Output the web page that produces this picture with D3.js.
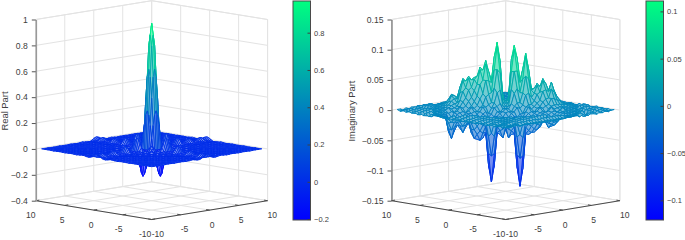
<!DOCTYPE html>
<html>
<head>
<meta charset="utf-8">
<script src="https://cdn.jsdelivr.net/npm/d3@7/dist/d3.min.js"></script>
<style>
html, body { margin: 0; padding: 0; background: #fff; }
svg { display: block; }
text { font-family: "Liberation Sans", Arial, sans-serif; fill: #404040; }
</style>
</head>
<body>
<svg width="685" height="240"></svg>
<script>
// sample positions along both floor axes
var imagCoords = [-9.5, -9, -8.5, -8, -7.5, -7, -6.5, -6, -5.5, -5, -4.5, -4, -3.5, -3, -2.5, -2, -1.5, -1, -0.5, 0,
    0.5, 1, 1.5, 2, 2.5, 3, 3.5, 4, 4.5, 5, 5.5, 6, 6.5, 7, 7.5, 8, 8.5, 9, 9.5];
var realCoords = [-9.5, -9, -8.5, -8, -7.5, -7, -6.5, -6, -5.5, -5, -4.5, -4, -3.5, -3, -2.5, -2, -1.75, -1.5, -1.25, -1, -0.75, -0.5, -0.25, 0,
    0.25, 0.5, 0.75, 1, 1.25, 1.5, 1.75, 2, 2.5, 3, 3.5, 4, 4.5, 5, 5.5, 6, 6.5, 7, 7.5, 8, 8.5, 9, 9.5];
var floorTicks = [-10, -5, 0, 5, 10];
var realTicks = [-0.4, -0.2, 0, 0.2, 0.4, 0.6, 0.8, 1];
var imagTicks = [-0.15, -0.1, -0.05, 0, 0.05, 0.1, 0.15];
var realBarTicks = [-0.2, 0, 0.2, 0.4, 0.6, 0.8];
var imagBarTicks = [-0.1, -0.05, 0, 0.05, 0.1];
var realBarRange = [-0.205, 0.97];
var imagBarRange = [-0.1208, 0.111];

// real part, read as one quadrant; rows and columns follow the non negative half of realCoords
var realQuadrant = [
    [0.97, 0.88, 0.62, 0.3, 0, -0.16, -0.2, -0.12, -0.01, 0.1, 0, -0.06, 0, 0.05, 0, -0.035, 0, 0.03, 0, -0.025, 0, 0.025, 0, 0.025],
    [0.88, 0.8, 0.56, 0.27, 0, -0.14, -0.18, -0.11, -0.01, 0.09, 0, -0.055, 0, 0.045, 0, -0.03, 0, 0.027, 0, -0.022, 0, 0.022, 0, 0.022],
    [0.62, 0.56, 0.4, 0.19, 0, -0.1, -0.13, -0.08, -0.01, 0.065, 0, -0.04, 0, 0.03, 0, -0.022, 0, 0.02, 0, -0.016, 0, 0.016, 0, 0.016],
    [0.3, 0.27, 0.19, 0.09, 0, -0.05, -0.06, -0.04, 0, 0.03, 0, -0.018, 0, 0.015, 0, -0.01, 0, 0.009, 0, -0.008, 0, 0.008, 0, 0.008],
    [0, 0, 0, 0, 0, 0, 0, 0, 0, 0, 0, 0, 0, 0, 0, 0, 0, 0, 0, 0, 0, 0, 0, 0],
    [-0.16, -0.14, -0.1, -0.05, 0, 0.026, 0.033, 0.02, 0, -0.016, 0, 0.01, 0, -0.008, 0, 0.006, 0, -0.005, 0, 0.004, 0, -0.004, 0, -0.004],
    [-0.2, -0.18, -0.13, -0.06, 0, 0.033, 0.042, 0.025, 0, -0.02, 0, 0.012, 0, -0.01, 0, 0.007, 0, -0.006, 0, 0.005, 0, -0.005, 0, -0.005],
    [-0.12, -0.11, -0.08, -0.04, 0, 0.02, 0.025, 0.015, 0, -0.012, 0, 0.007, 0, -0.006, 0, 0.004, 0, -0.004, 0, 0.003, 0, -0.003, 0, -0.003],
    [-0.01, -0.01, -0.01, 0, 0, 0, 0, 0, 0, 0, 0, 0, 0, 0, 0, 0, 0, 0, 0, 0, 0, 0, 0, 0],
    [0.1, 0.09, 0.065, 0.03, 0, -0.016, -0.02, -0.012, 0, 0.012, 0, -0.007, 0, 0.005, 0, -0.004, 0, 0.003, 0, -0.003, 0, 0.003, 0, 0.003],
    [0, 0, 0, 0, 0, 0, 0, 0, 0, 0, 0, 0, 0, 0, 0, 0, 0, 0, 0, 0, 0, 0, 0, 0],
    [-0.06, -0.055, -0.04, -0.018, 0, 0.01, 0.012, 0.007, 0, -0.007, 0, 0.004, 0, -0.003, 0, 0.002, 0, -0.002, 0, 0.002, 0, -0.002, 0, -0.002],
    [0, 0, 0, 0, 0, 0, 0, 0, 0, 0, 0, 0, 0, 0, 0, 0, 0, 0, 0, 0, 0, 0, 0, 0],
    [0.05, 0.045, 0.03, 0.015, 0, -0.008, -0.01, -0.006, 0, 0.005, 0, -0.003, 0, 0.003, 0, -0.002, 0, 0.002, 0, -0.001, 0, 0.001, 0, 0.001],
    [0, 0, 0, 0, 0, 0, 0, 0, 0, 0, 0, 0, 0, 0, 0, 0, 0, 0, 0, 0, 0, 0, 0, 0],
    [-0.035, -0.03, -0.022, -0.01, 0, 0.006, 0.007, 0.004, 0, -0.004, 0, 0.002, 0, -0.002, 0, 0.001, 0, -0.001, 0, 0.001, 0, -0.001, 0, -0.001],
    [0, 0, 0, 0, 0, 0, 0, 0, 0, 0, 0, 0, 0, 0, 0, 0, 0, 0, 0, 0, 0, 0, 0, 0],
    [0.03, 0.027, 0.02, 0.009, 0, -0.005, -0.006, -0.004, 0, 0.003, 0, -0.002, 0, 0.002, 0, -0.001, 0, 0.001, 0, -0.001, 0, 0.001, 0, 0.001],
    [0, 0, 0, 0, 0, 0, 0, 0, 0, 0, 0, 0, 0, 0, 0, 0, 0, 0, 0, 0, 0, 0, 0, 0],
    [-0.025, -0.022, -0.016, -0.008, 0, 0.004, 0.005, 0.003, 0, -0.003, 0, 0.002, 0, -0.001, 0, 0.001, 0, -0.001, 0, 0.001, 0, -0.001, 0, -0.001],
    [0, 0, 0, 0, 0, 0, 0, 0, 0, 0, 0, 0, 0, 0, 0, 0, 0, 0, 0, 0, 0, 0, 0, 0],
    [0.025, 0.022, 0.016, 0.008, 0, -0.004, -0.005, -0.003, 0, 0.003, 0, -0.002, 0, 0.001, 0, -0.001, 0, 0.001, 0, -0.001, 0, 0.001, 0, 0.001],
    [0, 0, 0, 0, 0, 0, 0, 0, 0, 0, 0, 0, 0, 0, 0, 0, 0, 0, 0, 0, 0, 0, 0, 0],
    [0.025, 0.022, 0.016, 0.008, 0, -0.004, -0.005, -0.003, 0, 0.003, 0, -0.002, 0, 0.001, 0, -0.001, 0, 0.001, 0, -0.001, 0, 0.001, 0, 0.001]
];

// imaginary part x 1000, one row per x + y slice from the front corner to the back corner
var imagSlices = [
    [0],
    [0, 1],
    [1, -1, 0],
    [0, 1, -1, 1],
    [-1, 1, 0, -1, 1],
    [1, -1, 2, -2, 1, -1],
    [0, 1, -2, 1, -2, 1, 0],
    [-1, 2, -1, 2, -2, 1, -2, 1],
    [1, -2, 2, -1, 1, -2, 2, -1, 1],
    [0, 1, -2, 2, -1, 1, -2, 2, -1, 0],
    [1, -1, 2, -3, 2, 0, 2, -3, 2, -1, 1],
    [-1, 2, -2, 3, -2, 1, -1, 2, -3, 2, -1, 1],
    [1, -2, 3, -3, 2, -1, 1, -1, 2, -3, 3, -2, 1],
    [0, 2, -2, 3, -3, 2, -1, 1, -2, 3, -3, 2, -2, 0],
    [1, -2, 3, -3, 3, -2, 1, 0, 1, -2, 3, -3, 3, -2, 1],
    [-1, 2, -3, 3, -3, 2, -1, 1, -1, 2, -3, 3, -3, 2, -2, 1],
    [1, -2, 2, -4, 3, -3, 2, -1, 1, -1, 2, -3, 3, -4, 2, -2, 1],
    [0, 2, -3, 3, -4, 3, -2, 2, -1, 1, -2, 2, -3, 4, -3, 3, -2, 0],
    [1, -2, 3, -4, 4, -3, 3, -2, 1, 0, 1, -2, 3, -3, 4, -4, 3, -2, 1],
    [-1, 2, -3, 4, -4, 3, -3, 2, -1, 1, -1, 1, -2, 3, -3, 4, -4, 3, -2, 1],
    [1, -2, 3, -4, 5, -4, 3, -2, 2, -1, 1, -1, 2, -2, 3, -4, 5, -4, 3, -2, 1],
    [0, 2, -3, 4, -5, 4, -3, 3, -2, 1, -1, 1, -1, 2, -3, 3, -4, 5, -4, 3, -2, 0],
    [1, -2, 3, -4, 5, -5, 3, -3, 2, -2, 1, 0, 1, -2, 2, -3, 3, -5, 5, -4, 3, -2, 1],
    [1, -2, -2, -1, -2, -1, -2, -2, -2, -6, -2, -2, -2, -2, -6, -2, -2, -1, -1, -1, -1, 2, -1, 1],
    [1, -2, -4, -3, -3, -3, -4, -5, -5, -10, -10, -4, -3, -4, -11, -11, -4, -4, -3, -2, -2, -2, 2, -1, 1],
    [1, -1, -2, -10, -5, -8, -4, -10, -11, -8, -28, -8, -10, -10, -8, -30, -8, -8, -6, -3, -6, -5, -2, -1, -1, 1],
    [2, 0, -2, -12, -11, -10, -9, -13, -17, -16, -34, -34, -14, -10, -14, -35, -36, -14, -12, -9, -6, -8, -6, -2, -1, 0, -2],
    [-2, 0, -1, -4, -24, -11, -18, -8, -24, -26, -18, -67, -18, -23, -23, -19, -71, -19, -18, -15, -7, -13, -11, -5, -2, -1, 0, 2],
    [2, -3, -1, -3, -23, -21, -18, -17, -24, -32, -30, -64, -64, -26, -19, -26, -66, -68, -26, -23, -17, -11, -15, -11, -5, -2, -1, 3, -2],
    [-2, 3, 0, -2, -6, -40, -18, -30, -14, -40, -43, -30, -112, -30, -39, -39, -32, -119, -32, -30, -25, -12, -22, -18, -8, -4, -2, 0, -3, 2],
    [2, -3, 4, -1, -4, -30, -28, -24, -22, -32, -42, -40, -85, -85, -34, -25, -34, -88, -90, -34, -30, -22, -14, -20, -14, -6, -3, -1, 4, -3, 2],
    [-2, 3, -4, 0, -2, -6, -38, -17, -28, -13, -38, -41, -28, -106, -28, -37, -37, -30, -113, -30, -28, -24, -11, -21, -17, -8, -4, -2, 0, 4, -3, 2],
    [2, -3, 4, -4, -1, -3, -23, -21, -18, -17, -24, -32, -30, -64, -64, -26, -19, -26, -66, -68, -26, -23, -17, -11, -15, -11, -5, -2, -1, 5, -4, 3, -2],
    [-1, 2, -3, 4, 0, -1, -4, -24, -11, -18, -8, -24, -26, -18, -67, -18, -23, -23, -19, -71, -19, -18, -15, -7, -13, -11, -5, -2, -1, 0, -4, 3, -2, 1],
    [1, -2, 3, -4, 5, 0, -2, -12, -11, -10, -9, -13, -17, -16, -34, -34, -14, -10, -14, -35, -36, -14, -12, -9, -6, -8, -6, -2, -1, 0, -5, 4, -3, 2, -1],
    [-1, 2, -3, 4, -5, 0, -1, -2, -10, -5, -8, -4, -10, -11, -8, -28, -8, -10, -10, -8, -30, -8, -8, -6, -3, -6, -5, -2, -1, -1, 0, 5, -4, 3, -2, 1],
    [1, -1, 2, -3, 4, -4, 0, 0, -4, -3, -3, -3, -4, -5, -5, -10, -10, -4, -3, -4, -11, -11, -4, -4, -3, -2, -2, -2, -1, 0, 0, 4, -4, 3, -2, 1, -1],
    [-1, 1, -2, 3, -3, 4, 0, 0, 0, -2, -1, -2, -1, -2, -2, -2, -6, -2, -2, -2, -2, -6, -2, -2, -1, -1, -1, -1, 0, 0, 0, 0, -4, 3, -3, 2, -1, 1],
    [1, -1, 2, -2, 3, -3, 2, 2, -3, 4, -4, 5, -5, 4, -3, 5, -6, 4, -3, 2, -3, 4, -6, 5, -3, 4, -5, 5, -4, 4, -3, 2, 2, -3, 3, -2, 2, -1, 1],
    [1, -1, 2, -3, 3, -4, 0, 0, 0, 1, 1, 2, 2, 2, 3, 4, 2, 5, 1, 1, 5, 2, 4, 1, 2, 2, 1, 1, 0, 0, 0, 0, 4, -3, 3, -2, 1, -1],
    [-1, 1, -2, 3, -4, 4, 0, 0, 1, 2, 4, 5, 5, 6, 7, 7, 10, 9, 1, 9, 10, 7, 7, 4, 4, 5, 5, 2, 1, 0, 0, -4, 4, -3, 2, -1, 1],
    [1, -2, 3, -4, 5, 0, 1, 2, 5, 4, 11, 12, 12, 16, 19, 10, 26, 4, 4, 25, 10, 22, 7, 9, 11, 7, 6, 3, 1, 1, 0, -5, 4, -3, 2, -1],
    [-1, 2, -3, 4, -5, 0, 1, 5, 7, 13, 17, 18, 20, 24, 23, 33, 30, 3, 31, 32, 25, 25, 12, 13, 15, 16, 6, 2, 1, 0, 5, -4, 3, -2, 1],
    [1, -2, 3, -4, 0, 2, 4, 11, 8, 27, 29, 28, 38, 45, 25, 63, 9, 9, 60, 25, 52, 17, 22, 27, 16, 15, 6, 2, 1, 0, 4, -3, 2, -1],
    [-2, 3, -4, 4, 1, 2, 9, 14, 24, 32, 33, 38, 45, 44, 62, 57, 6, 59, 60, 47, 47, 23, 25, 29, 30, 12, 4, 2, 1, -5, 4, -3, 2],
    [2, -3, 4, 0, 3, 6, 18, 13, 43, 47, 45, 61, 71, 40, 100, 14, 14, 95, 40, 83, 27, 35, 43, 25, 24, 10, 4, 2, 0, -4, 3, -2],
    [-2, 3, -4, 1, 3, 12, 18, 32, 42, 44, 50, 60, 58, 82, 76, 8, 78, 80, 62, 62, 30, 33, 38, 40, 16, 5, 3, 1, -4, 3, -2],
    [2, -3, 0, 3, 6, 19, 14, 45, 49, 47, 64, 75, 42, 105, 15, 15, 100, 42, 87, 28, 37, 45, 26, 25, 10, 4, 2, 0, 3, -2],
    [-2, 3, 1, 2, 9, 14, 24, 32, 33, 38, 45, 44, 62, 57, 6, 59, 60, 47, 47, 23, 25, 29, 30, 12, 4, 2, 1, -3, 2],
    [2, 0, 2, 4, 11, 8, 27, 29, 28, 38, 45, 25, 63, 9, 9, 60, 25, 52, 17, 22, 27, 16, 15, 6, 2, 1, 0, -2],
    [-2, 0, 1, 5, 7, 13, 17, 18, 20, 24, 23, 33, 30, 3, 31, 32, 25, 25, 12, 13, 15, 16, 6, 2, 1, 0, 2],
    [-1, 1, 2, 5, 4, 11, 12, 12, 16, 19, 10, 26, 4, 4, 25, 10, 22, 7, 9, 11, 7, 6, 3, 1, 1, -1],
    [-1, 2, 1, 2, 4, 5, 5, 6, 7, 7, 10, 9, 1, 9, 10, 7, 7, 4, 4, 5, 5, 2, -2, 1, -1],
    [-1, 2, 0, 1, 1, 2, 2, 2, 3, 4, 2, 5, 1, 1, 5, 2, 4, 1, 2, 2, 1, 1, -2, 1],
    [-1, 2, -3, 4, -5, 5, -3, 3, -2, 2, -1, 0, -1, 2, -2, 3, -3, 5, -5, 4, -3, 2, -1],
    [0, -2, 3, -4, 5, -4, 3, -3, 2, -1, 1, -1, 1, -2, 3, -3, 4, -5, 4, -3, 2, 0],
    [-1, 2, -3, 4, -5, 4, -3, 2, -2, 1, -1, 1, -2, 2, -3, 4, -5, 4, -3, 2, -1],
    [1, -2, 3, -4, 4, -3, 3, -2, 1, -1, 1, -1, 2, -3, 3, -4, 4, -3, 2, -1],
    [-1, 2, -3, 4, -4, 3, -3, 2, -1, 0, -1, 2, -3, 3, -4, 4, -3, 2, -1],
    [0, -2, 3, -3, 4, -3, 2, -2, 1, -1, 2, -2, 3, -4, 3, -3, 2, 0],
    [-1, 2, -2, 4, -3, 3, -2, 1, -1, 1, -2, 3, -3, 4, -2, 2, -1],
    [1, -2, 3, -3, 3, -2, 1, -1, 1, -2, 3, -3, 3, -2, 2, -1],
    [-1, 2, -3, 3, -3, 2, -1, 0, -1, 2, -3, 3, -3, 2, -1],
    [0, -2, 2, -3, 3, -2, 1, -1, 2, -3, 3, -2, 2, 0],
    [-1, 2, -3, 3, -2, 1, -1, 1, -2, 3, -3, 2, -1],
    [1, -2, 2, -3, 2, -1, 1, -2, 3, -2, 1, -1],
    [-1, 1, -2, 3, -2, 0, -2, 3, -2, 1, -1],
    [0, -1, 2, -2, 1, -1, 2, -2, 1, 0],
    [-1, 2, -2, 1, -1, 2, -2, 1, -1],
    [1, -2, 1, -2, 2, -1, 2, -1],
    [0, -1, 2, -1, 2, -1, 0],
    [-1, 1, -2, 2, -1, 1],
    [1, -1, 0, 1, -1],
    [0, -1, 1, -1],
    [-1, 1, 0],
    [0, -1],
    [0]
];

var svg = d3.select("svg");
var winter = ["#0000ff", "#00ff80"];

function realAt(i, j) {
    return realQuadrant[Math.abs(i - 23)][Math.abs(j - 23)];
}

function imagAt(i, j) {
    var t = i + j;
    return imagSlices[t][i - Math.max(0, t - 38)] / 1000;
}

function drawPanel(p) {
    var g = svg.append("g");
    var coords = p.coords;

    var xPos = d3.scaleLinear().domain([-10, 10]).range([0, p.halfWidth]);
    var floorRise = d3.scaleLinear().domain([-10, 10]).range([0, 18.8]);
    var zRise = d3.scaleLinear().domain(p.zDomain).range([0, 181.2]);
    var color = d3.scaleLinear().domain(p.barRange).range(winter).clamp(true);
    var tint = d3.interpolateRgb;

    function sx(x, y) { return p.frontX + xPos(x) - xPos(y); }
    function sy(x, y, z) { return 219.5 - floorRise(x) - floorRise(y) - zRise(z); }
    function seg(sel, a, b) {
        sel.append("line")
            .attr("x1", sx(a[0], a[1])).attr("y1", sy(a[0], a[1], a[2]))
            .attr("x2", sx(b[0], b[1])).attr("y2", sy(b[0], b[1], b[2]));
    }

    var zMin = p.zDomain[0], zMax = p.zDomain[1];

    // back walls and floor
    var grid = g.append("g").attr("stroke", "#e3e3e3").attr("stroke-width", 1);
    floorTicks.forEach(function(t) {
        seg(grid, [t, 10, zMin], [t, 10, zMax]);
        seg(grid, [10, t, zMin], [10, t, zMax]);
        seg(grid, [t, -10, zMin], [t, 10, zMin]);
        seg(grid, [-10, t, zMin], [10, t, zMin]);
    });
    p.zTicks.forEach(function(t) {
        seg(grid, [-10, 10, t], [10, 10, t]);
        seg(grid, [10, -10, t], [10, 10, t]);
    });
    seg(grid, [10, -10, zMin], [10, -10, zMax]);
    seg(grid, [-10, 10, zMax], [10, 10, zMax]);
    seg(grid, [10, -10, zMax], [10, 10, zMax]);

    // mesh, painted from the back corner to the front corner
    var cells = d3.cross(d3.range(coords.length - 1), d3.range(coords.length - 1))
        .sort(function(a, b) { return (b[0] + b[1]) - (a[0] + a[1]); });
    var quad = d3.line().curve(d3.curveLinearClosed);
    function corner(i, j) {
        return [sx(coords[i], coords[j]), sy(coords[i], coords[j], p.value(i, j))];
    }
    function cellColor(c) {
        var i = c[0], j = c[1];
        return color((p.value(i, j) + p.value(i + 1, j) + p.value(i + 1, j + 1) + p.value(i, j + 1)) / 4);
    }
    g.append("g").selectAll("path")
        .data(cells)
        .join("path")
        .attr("d", function(c) {
            var i = c[0], j = c[1];
            return quad([corner(i, j), corner(i + 1, j), corner(i + 1, j + 1), corner(i, j + 1)]);
        })
        .attr("fill", function(c) { return tint(cellColor(c), "#fff")(0.45); })
        .attr("stroke-width", 0.9)
        .attr("stroke-linejoin", "round")
        .attr("stroke", cellColor);

    // floor edges with ticks and labels
    var edges = g.append("g").attr("stroke", "#4a4a4a").attr("stroke-width", 1);
    seg(edges, [-10, 10, zMin], [-10, -10, zMin]);
    seg(edges, [-10, -10, zMin], [10, -10, zMin]);
    floorTicks.forEach(function(t) {
        seg(edges, [-10, t, zMin], [-9.4, t, zMin]);
        seg(edges, [t, -10, zMin], [t, -9.4, zMin]);
        g.append("text").attr("font-size", 8.6)
            .attr("text-anchor", "end")
            .attr("x", sx(-10, t) - 0.3).attr("y", sy(-10, t, zMin) + 17.5)
            .text(t);
        g.append("text").attr("font-size", 8.6)
            .attr("text-anchor", "start")
            .attr("x", sx(t, -10)).attr("y", sy(t, -10, zMin) + 17.5)
            .text(t);
    });

    // vertical axis
    var zScale = d3.scaleLinear().domain(p.zDomain).range([200.7, 19.5]);
    var zAxis = g.append("g")
        .attr("transform", "translate(" + sx(-10, 10) + ",0)")
        .call(d3.axisLeft(zScale).tickValues(p.zTicks).tickFormat(d3.format("~g")).tickSizeInner(4).tickSizeOuter(0).tickPadding(4));
    zAxis.select(".domain").attr("stroke", p.zAxisColor).attr("stroke-width", p.zAxisWidth);
    zAxis.selectAll(".tick line").attr("stroke", "#555");
    zAxis.selectAll("text").attr("font-size", 8.6).attr("font-family", "Liberation Sans").attr("fill", "#404040");

    g.append("text")
        .attr("transform", "translate(" + p.labelX + ",111) rotate(-90)")
        .attr("text-anchor", "middle")
        .attr("font-size", 9.4)
        .attr("fill", "#303030")
        .text(p.label);

    // colour bar
    var gradId = "bar" + p.barX;
    var grad = svg.append("defs").append("linearGradient")
        .attr("id", gradId).attr("x1", 0).attr("x2", 0).attr("y1", 1).attr("y2", 0);
    grad.append("stop").attr("offset", 0).attr("stop-color", winter[0]);
    grad.append("stop").attr("offset", 1).attr("stop-color", winter[1]);
    var barScale = d3.scaleLinear().domain(p.barRange).range([220, 1]);
    g.append("rect")
        .attr("x", p.barX).attr("y", 1)
        .attr("width", 17.5).attr("height", 219)
        .attr("fill", "url(#" + gradId + ")")
        .attr("stroke", "#4a4a4a").attr("stroke-width", 1);
    var barAxis = g.append("g")
        .attr("transform", "translate(" + (p.barX + 17.5) + ",0)")
        .call(d3.axisRight(barScale).tickValues(p.barTicks).tickFormat(d3.format("~g")).tickSizeInner(-3).tickSizeOuter(0).tickPadding(3.5));
    barAxis.select(".domain").remove();
    barAxis.selectAll(".tick line").attr("stroke", "#404040");
    barAxis.selectAll("text").attr("font-size", 7.5).attr("font-family", "Liberation Sans").attr("fill", "#404040");
}

drawPanel({
    coords: realCoords,
    frontX: 151.7, halfWidth: 115.9,
    zDomain: [-0.4, 1], zTicks: realTicks, zAxisColor: "#999", zAxisWidth: 1.6,
    label: "Real Part", labelX: 8,
    barX: 293, barRange: realBarRange, barTicks: realBarTicks,
    value: realAt
});

drawPanel({
    coords: imagCoords,
    frontX: 505.7, halfWidth: 114.2,
    zDomain: [-0.15, 0.15], zTicks: imagTicks, zAxisColor: "#555", zAxisWidth: 1,
    label: "Imaginary Part", labelX: 355,
    barX: 646, barRange: imagBarRange, barTicks: imagBarTicks,
    value: imagAt
});
</script>
</body>
</html>
